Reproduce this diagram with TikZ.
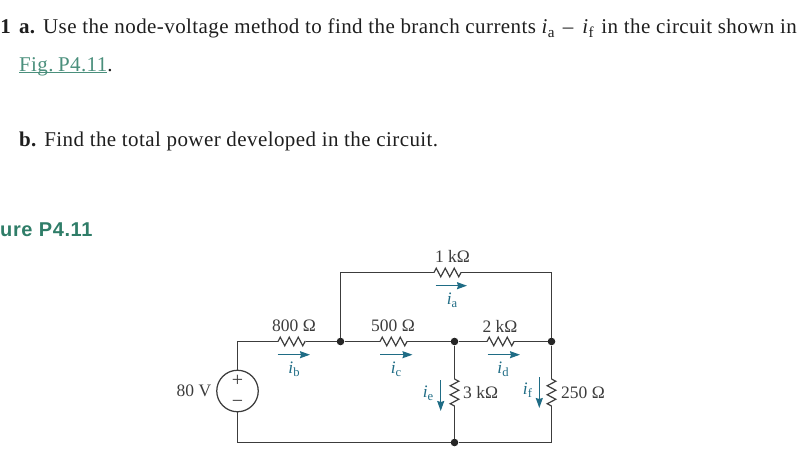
\documentclass[tikz,border=0pt]{standalone}
\usepackage{graphicx}
\usepackage{fontspec}
\setmainfont{Liberation Serif}
\newfontfamily\headfont[LetterSpace=3.2]{Liberation Sans}
\newfontfamily\spacedfont[LetterSpace=2.0]{Liberation Serif}
\usetikzlibrary{decorations.pathmorphing,arrows.meta}
\definecolor{wirec}{HTML}{3C3C3C}
\definecolor{tealc}{HTML}{1F6C85}
\definecolor{headc}{HTML}{2F7D68}
\definecolor{linkc}{HTML}{4A8F7C}
\definecolor{bodyc}{HTML}{1E1E1E}
\newcommand{\curr}[1]{\textit{i}\raisebox{-0.18em}{\scalebox{0.72}{#1}}}
\tikzset{
  x=1pt,y=-1pt,
  body/.style={anchor=base west,inner sep=0pt,outer sep=0pt,text=bodyc,font=\fontsize{21}{21}\selectfont\spacedfont},
  wire/.style={draw=wirec,line width=1.15pt},
  res/.style={draw=wirec,line width=1.15pt,decorate,decoration={zigzag,segment length=9pt,amplitude=4.4pt}},
  dotn/.style={circle,fill=black!85,inner sep=0pt,minimum size=7.6pt},
  val/.style={inner sep=0pt,text=wirec,font=\fontsize{17.5}{17.5}\selectfont},
  curl/.style={inner sep=0pt,text=tealc,font=\fontsize{17.5}{17.5}\selectfont},
  curr arrow/.style={draw=tealc,line width=1.2pt,-{Stealth[length=10pt,width=7pt,inset=1pt]}},
  srcn/.style={circle,draw=wirec,line width=1.25pt,minimum size=41.5pt,inner sep=0pt}
}
\begin{document}
\begin{tikzpicture}
\useasboundingbox (0,0) rectangle (805,460);
\node[body,anchor=base west] (numt) at (0.5,34) {\textbf{1}};
\node[body] (q1) at (19,34) {\textbf{a.} Use the node-voltage method to find the branch currents \curr{a}\kern2.5pt{} – \kern3.5pt\curr{f}\kern2pt{} in the circuit shown in};
\node[body] (q2) at (19,71) {\textcolor{linkc}{\underline{\smash{Fig.\kern4.5pt P4.11}}}.};
\node[body] (q3) at (19,146) {\textbf{b.} Find the total power developed in the circuit.};
\node[anchor=base west,inner sep=0pt,text=headc,font=\fontsize{20}{20}\selectfont\headfont\bfseries] (hd) at (0,236) {ure P4.11};

% junctions and corners
\node[dotn] (na) at (340.5,341.5) {};
\node[dotn] (nb) at (454.5,341.5) {};
\node[dotn] (nc) at (551.5,341.5) {};
\node[dotn] (nd) at (454.5,442.5) {};
\coordinate (tl) at (340.5,272.5);
\coordinate (tr) at (551.5,272.5);
\coordinate (ml) at (237.5,341.5);
\coordinate (bl) at (237.5,442.5);
\coordinate (br) at (551.5,442.5);
\node[srcn] (src) at (237.5,391) {};
\node[inner sep=0pt,text=wirec,font=\fontsize{20}{20}\selectfont] (plus) at (237.5,380.5) {+};
\node[inner sep=0pt,text=wirec,font=\fontsize{20}{20}\selectfont] (minus) at (237.5,403.5) {−};

% resistor terminals
\coordinate (r1a) at (434,272.5); \coordinate (r1b) at (461,272.5);
\coordinate (r8a) at (278,341.5); \coordinate (r8b) at (305.5,341.5);
\coordinate (r5a) at (380,341.5); \coordinate (r5b) at (407,341.5);
\coordinate (r2a) at (487,341.5); \coordinate (r2b) at (514,341.5);
\coordinate (r3a) at (454.5,379); \coordinate (r3b) at (454.5,406);
\coordinate (r25a) at (551.5,379); \coordinate (r25b) at (551.5,406);

% wires
\draw[wire] (src) -- (ml) -- (r8a);
\draw[res] (r8a) -- (r8b);
\draw[wire] (r8b) -- (na);
\draw[wire] (na) -- (tl) -- (r1a);
\draw[res] (r1a) -- (r1b);
\draw[wire] (r1b) -- (tr) -- (nc);
\draw[wire] (na) -- (r5a);
\draw[res] (r5a) -- (r5b);
\draw[wire] (r5b) -- (nb);
\draw[wire] (nb) -- (r2a);
\draw[res] (r2a) -- (r2b);
\draw[wire] (r2b) -- (nc);
\draw[wire] (nb) -- (r3a);
\draw[res] (r3a) -- (r3b);
\draw[wire] (r3b) -- (nd);
\draw[wire] (nc) -- (r25a);
\draw[res] (r25a) -- (r25b);
\draw[wire] (r25b) -- (br) -- (nd);
\draw[wire] (nd) -- (bl) -- (src);

% value labels
\node[val] (l80) at (194,391) {80 V};
\node[val] (l800) at (294,326) {800 Ω};
\node[val] (l500) at (393,326) {500 Ω};
\node[val] (l2k) at (500,326) {2 kΩ};
\node[val] (l1k) at (452.5,256) {1 kΩ};
\node[val,anchor=west] (l3k) at (463,393) {3 kΩ};
\node[val,anchor=west] (l250) at (561,393) {250 Ω};

% current arrows
\coordinate (aa) at (435.7,285.7); \coordinate (ab) at (467,285.7);
\coordinate (ba) at (277.7,354.7); \coordinate (bb) at (310,354.7);
\coordinate (ca) at (380,354.7); \coordinate (cb) at (412.5,354.7);
\coordinate (da) at (487.7,354.7); \coordinate (db) at (520,354.7);
\coordinate (ea) at (440.7,380); \coordinate (eb) at (440.7,411);
\coordinate (fa) at (539.3,377); \coordinate (fb) at (539.3,408);
\draw[curr arrow] (aa) -- (ab);
\draw[curr arrow] (ba) -- (bb);
\draw[curr arrow] (ca) -- (cb);
\draw[curr arrow] (da) -- (db);
\draw[curr arrow] (ea) -- (eb);
\draw[curr arrow] (fa) -- (fb);
\node[curl] (ia) at (452,300) {\curr{a}};
\node[curl] (ib) at (294,369) {\curr{b}};
\node[curl] (ic) at (396,369) {\curr{c}};
\node[curl] (id) at (503,369) {\curr{d}};
\node[curl] (ie) at (428,393) {\curr{e}};
\node[curl] (if) at (527.5,390) {\curr{f}};
\end{tikzpicture}
\end{document}
